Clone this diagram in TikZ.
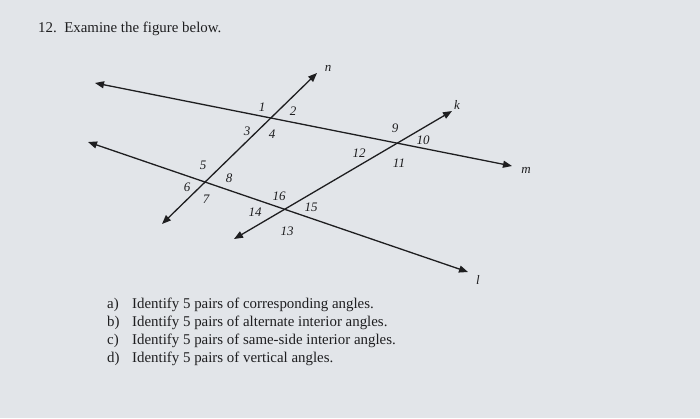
\documentclass[tikz,border=0pt]{standalone}
\usepackage{fontspec}
\setmainfont{Liberation Serif}
\usetikzlibrary{arrows.meta}
\definecolor{paper}{RGB}{226,229,233}
\definecolor{ink}{RGB}{30,30,32}
\tikzset{
  lineto/.style={draw=ink, line width=1.3pt, {Triangle[length=9pt,width=7pt]}-{Triangle[length=9pt,width=7pt]}},
  lbl/.style={font=\fontsize{13}{15}\selectfont\itshape, text=ink, inner sep=0pt},
  txt/.style={font=\fontsize{14.9}{17}\selectfont, text=ink, inner sep=0pt, anchor=base west}
}
\begin{document}
\begin{tikzpicture}[x=1pt,y=-1pt]
\fill[paper] (0,0) rectangle (700,418);
\useasboundingbox (0,0) rectangle (700,418);
% line ends
\coordinate (mL) at (95,83);
\coordinate (mR) at (512,166);
\coordinate (lL) at (88,142);
\coordinate (lR) at (468,272);
\coordinate (nB) at (162,224);
\coordinate (nT) at (317,73);
\coordinate (kB) at (234,239);
\coordinate (kT) at (452,111);
\draw[lineto] (mL) -- (mR);
\draw[lineto] (lL) -- (lR);
\draw[lineto] (nB) -- (nT);
\draw[lineto] (kB) -- (kT);
% line names
\node[lbl] (tn) at (328,68) {n};
\node[lbl] (tk) at (457,105) {k};
\node[lbl] (tm) at (526,170) {m};
\node[lbl] (tl) at (478,280) {l};
% angle numbers
\node[lbl] (a1) at (262,107) {1};
\node[lbl] (a2) at (293,111) {2};
\node[lbl] (a3) at (247,131) {3};
\node[lbl] (a4) at (272,134) {4};
\node[lbl] (a5) at (203,165) {5};
\node[lbl] (a8) at (229,178) {8};
\node[lbl] (a6) at (187,187) {6};
\node[lbl] (a7) at (206,199) {7};
\node[lbl] (a9) at (395,128) {9};
\node[lbl] (a10) at (423,140) {10};
\node[lbl] (a12) at (359,153) {12};
\node[lbl] (a11) at (399,163) {11};
\node[lbl] (a16) at (279,196) {16};
\node[lbl] (a15) at (311,207) {15};
\node[lbl] (a14) at (255,212) {14};
\node[lbl] (a13) at (287,231) {13};
% texts
\node[txt] (title) at (38,32) {12.\ \ Examine the figure below.};
\node[txt] (qa) at (107,308) {a)};
\node[txt] (qb) at (107,326) {b)};
\node[txt] (qc) at (107,344) {c)};
\node[txt] (qd) at (107,362) {d)};
\node[txt] (ta) at (132,308) {Identify 5 pairs of corresponding angles.};
\node[txt] (tb) at (132,326) {Identify 5 pairs of alternate interior angles.};
\node[txt] (tc) at (132,344) {Identify 5 pairs of same-side interior angles.};
\node[txt] (td) at (132,362) {Identify 5 pairs of vertical angles.};
\end{tikzpicture}
\end{document}
